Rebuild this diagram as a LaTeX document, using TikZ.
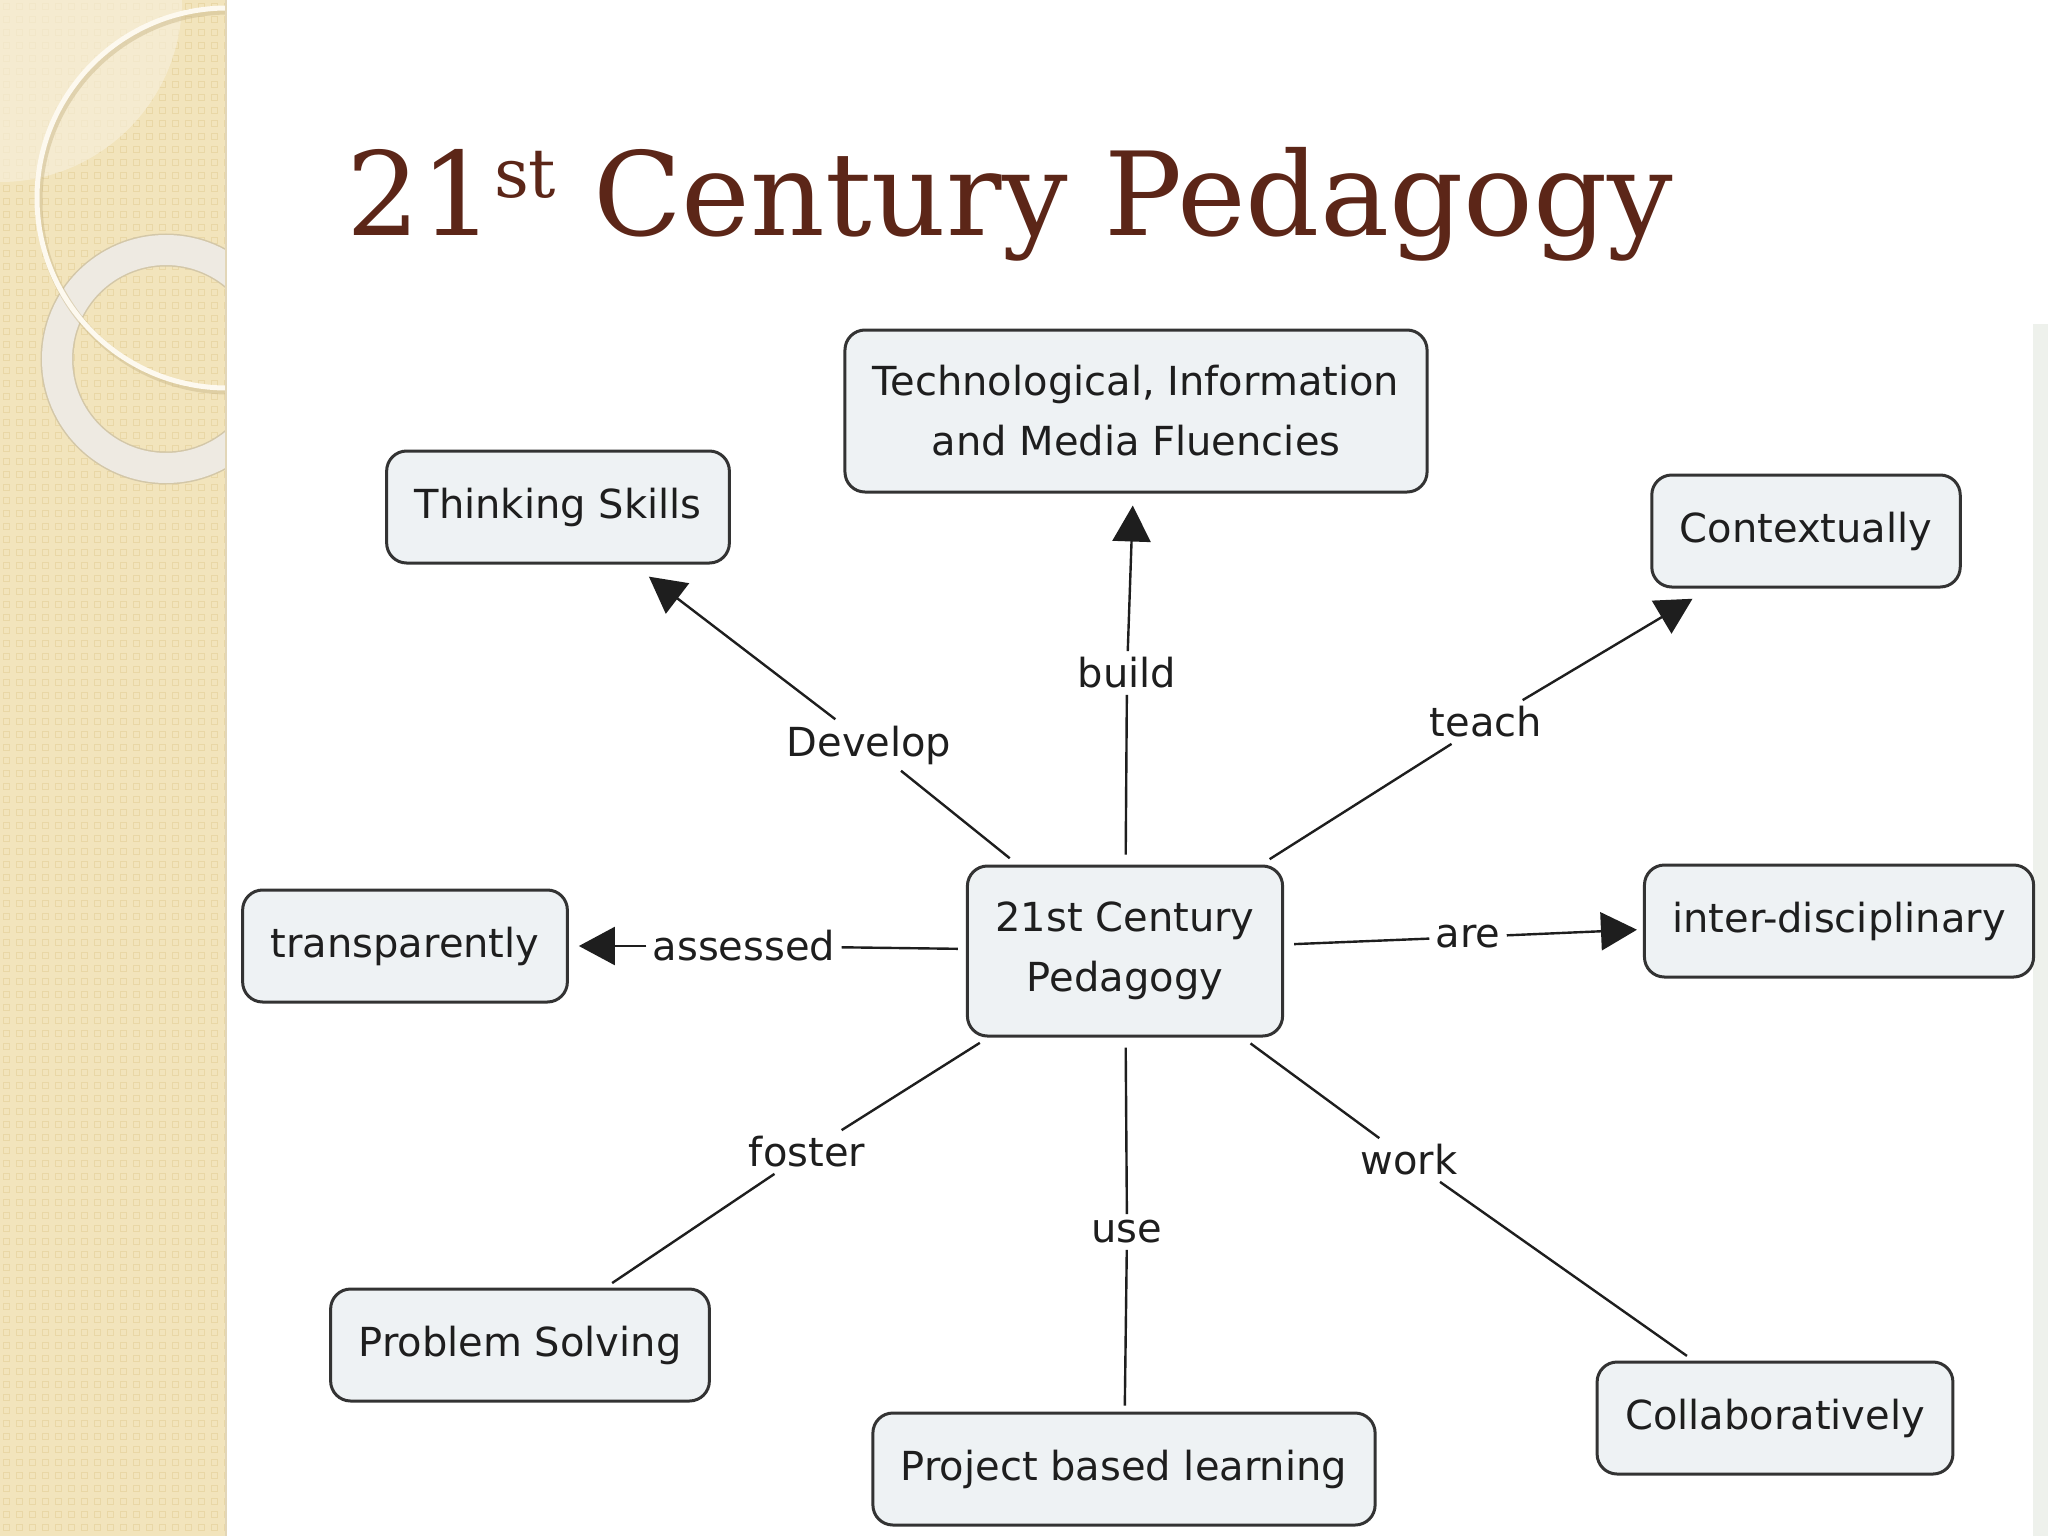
\documentclass[tikz,border=0pt]{standalone}
\usepackage{fontspec}
\setmainfont{DejaVu Sans}
\newfontfamily\titlefont{DejaVu Serif}
\usetikzlibrary{arrows.meta}
\definecolor{stripcol}{HTML}{F2E4BC}
\definecolor{striplight}{HTML}{F7EFD9}
\definecolor{patcol}{HTML}{E9D7A6}
\definecolor{thinring}{HTML}{FDF9EF}
\definecolor{ringshadow}{HTML}{CDBB8E}
\definecolor{ringcol}{HTML}{EEEAE2}
\definecolor{ringedge}{HTML}{D3C7A8}
\definecolor{stripedge}{HTML}{E2D6B8}
\definecolor{rightstrip}{HTML}{EEF1EC}
\definecolor{titlecol}{RGB}{92,38,24}
\definecolor{nodefill}{HTML}{EEF2F4}
\definecolor{nodeedge}{HTML}{333333}
\definecolor{textcol}{HTML}{1E1E1E}
\definecolor{linkcol}{HTML}{1E1E1E}
\begin{document}
\begin{tikzpicture}[x=0.5pt,y=-0.5pt,
  concept/.style={draw=nodeedge, line width=1.5pt, fill=nodefill, rounded corners=10pt,
    inner xsep=14pt, minimum height=56pt, align=center,
    font=\fontsize{20}{30}\selectfont, text=textcol},
  linklabel/.style={inner sep=3pt, font=\fontsize{20}{24}\selectfont, text=textcol},
  link/.style={line width=1.2pt, draw=linkcol},
  arrowlink/.style={link, -{Triangle[length=18pt,width=19pt]}},
  titlestyle/.style={anchor=base west, inner sep=0pt,
    font=\titlefont\fontsize{58}{60}\selectfont}
]
\useasboundingbox (0,0) rectangle (2048,1536);
\fill[white] (0,0) rectangle (2048,1536);

% left decorative strip
\begin{scope}
  \clip (0,0) rectangle (226,1536);
  \fill[stripcol] (0,0) rectangle (226,1536);
  \foreach \i in {0,...,17} {
    \foreach \j in {0,...,118} {
      \draw[patcol, line width=0.35pt] (\i*13+3,\j*13+3) rectangle ++(6,6);
    }
  }
  \fill[striplight, opacity=0.7] (0,0) -- (182,0) arc[start angle=0, end angle=90, radius=182] -- cycle;
  \draw[ringedge, line width=16.5pt] (166,359) circle[radius=109];
  \draw[ringcol, line width=15pt] (166,359) circle[radius=109];
  \draw[ringshadow, opacity=0.5, line width=3.5pt] (229,201) circle[radius=190];
  \draw[thinring, line width=2.5pt] (227,198) circle[radius=190];
\end{scope}
\draw[stripedge, line width=1pt] (226,0) -- (226,1536);
\fill[rightstrip] (2033,324) rectangle (2048,1536);

% title
\node[titlestyle, text=titlecol] (title) at (346,235)
  {21\raisebox{19pt}{\fontsize{34}{34}\selectfont st}~Century Pedagogy};

% concepts
\node[concept, minimum height=81pt] (tech) at (1136,411) {Technological, Information\\and Media Fluencies};
\node[concept] (think) at (558,507) {Thinking Skills};
\node[concept] (ctx) at (1806,531) {Contextually};
\node[concept] (trans) at (405,946) {transparently};
\node[concept, minimum height=85pt] (core) at (1125,951) {21st Century\\Pedagogy};
\node[concept] (inter) at (1839,921) {inter-disciplinary};
\node[concept] (prob) at (520,1345) {Problem Solving};
\node[concept] (proj) at (1124,1469) {Project based learning};
\node[concept] (collab) at (1775,1418) {Collaboratively};

% link labels
\node[linklabel] (lbuild) at (1127,673) {build};
\node[linklabel] (ldev) at (869,745) {Develop};
\node[linklabel] (lteach) at (1486,722) {teach};
\node[linklabel] (lass) at (744,946) {assessed};
\node[linklabel] (lare) at (1468,937) {are};
\node[linklabel] (lfos) at (807,1152) {foster};
\node[linklabel] (luse) at (1127,1232) {use};
\node[linklabel] (lwork) at (1409,1160) {work};

% connectors
\draw[link, shorten <=5pt] (core) -- (lbuild);
\draw[arrowlink, shorten >=6pt] (lbuild) -- (tech);
\draw[link, shorten <=5pt] (core) -- (ldev);
\draw[arrowlink, shorten >=10pt] (ldev) -- (think);
\draw[link, shorten <=5pt] (core) -- (lteach);
\draw[arrowlink, shorten >=10pt] (lteach) -- (ctx);
\draw[link, shorten <=4pt] (core) -- (lass);
\draw[arrowlink, shorten >=5pt] (lass) -- (trans);
\draw[link, shorten <=5pt] (core) -- (lare);
\draw[arrowlink, shorten >=3pt] (lare) -- (inter);
\draw[link, shorten <=5pt] (core) -- (lfos);
\draw[link, shorten >=4pt] (lfos) -- (prob);
\draw[link, shorten <=5pt] (core) -- (luse);
\draw[link, shorten >=3pt] (luse) -- (proj);
\draw[link, shorten <=5pt] (core) -- (lwork);
\draw[link, shorten >=4pt] (lwork) -- (collab);
\end{tikzpicture}
\end{document}
